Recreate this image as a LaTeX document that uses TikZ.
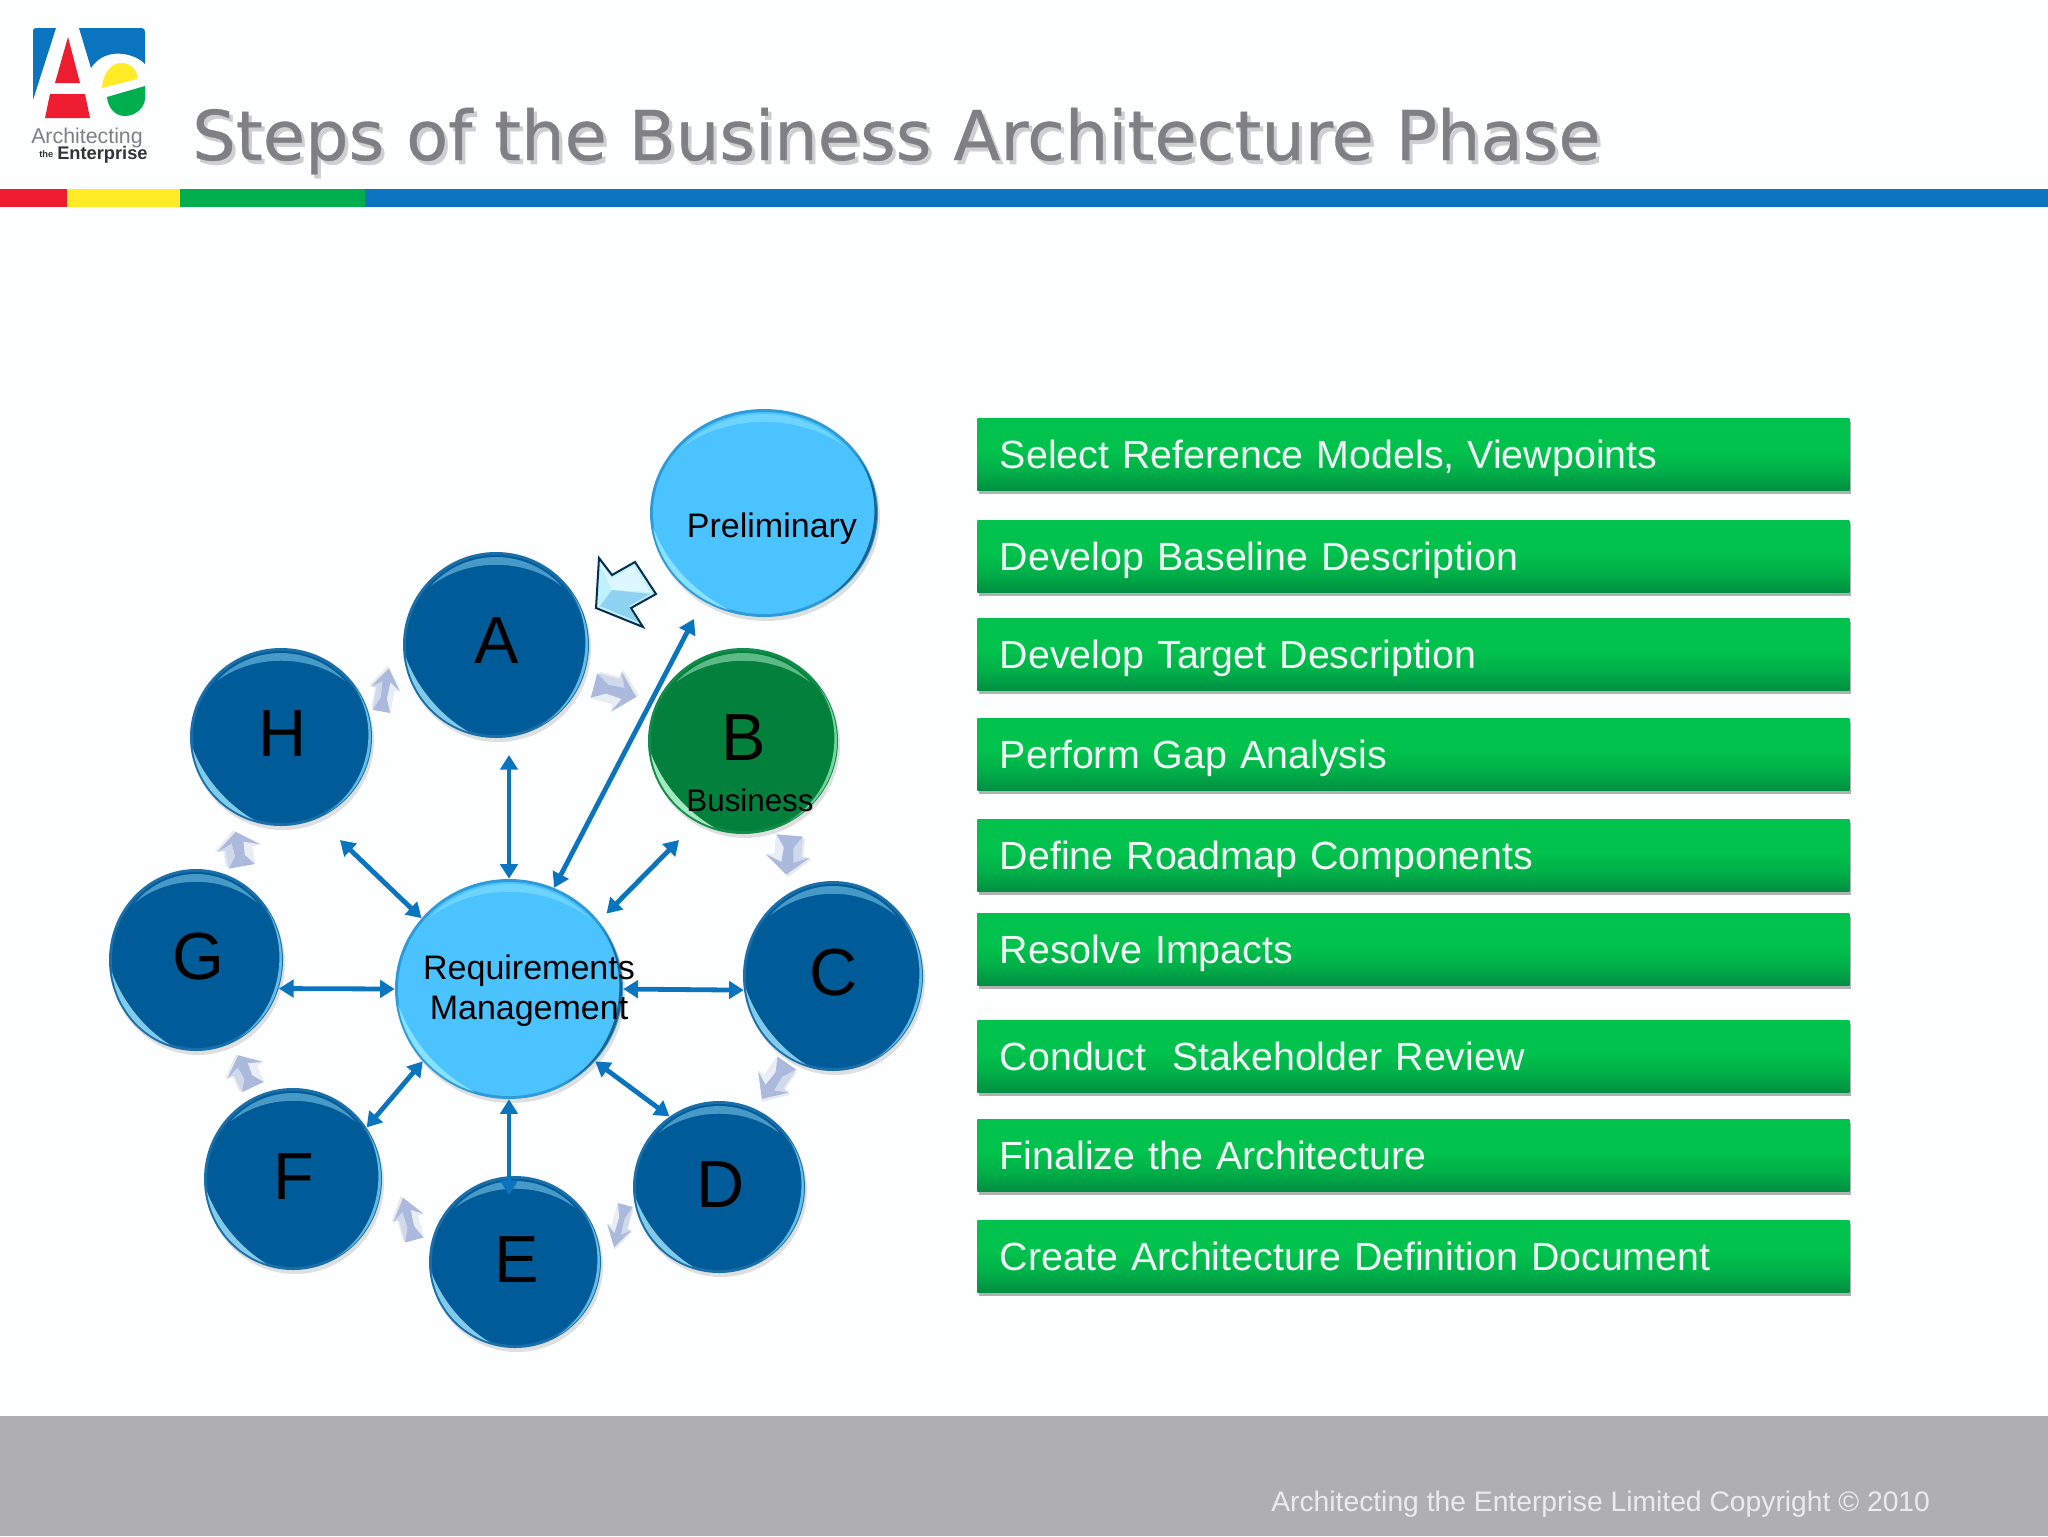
\documentclass[tikz,border=0pt]{standalone}
\usepackage{fontspec}
\usepackage{xcolor}
\usetikzlibrary{arrows.meta,shapes.geometric,shadows}
\setmainfont{Liberation Sans}
\newfontfamily\titlefont[FakeBold=0.5]{DejaVu Sans}

\definecolor{pagewhite}{HTML}{FDFEFF}
\definecolor{footgray}{HTML}{AFAFB1}
\definecolor{stripered}{HTML}{ED1C2E}
\definecolor{stripeyellow}{HTML}{FFEC26}
\definecolor{stripegreen}{HTML}{00AE4D}
\definecolor{stripeblue}{HTML}{0A74BE}
\definecolor{titlegray}{HTML}{808083}
\definecolor{titleshade}{HTML}{CFCFD1}
\definecolor{linkblue}{HTML}{0A74BE}
\definecolor{deepfill}{HTML}{005C99}
\definecolor{deeprim}{HTML}{1B6FA8}
\definecolor{deeplit}{HTML}{8FD8F5}
\definecolor{deepedge}{HTML}{6FC4EC}
\definecolor{skyfill}{HTML}{4BC3FF}
\definecolor{skyrim}{HTML}{2E9BD8}
\definecolor{skylit}{HTML}{8DE6FF}
\definecolor{skyedge}{HTML}{1B5A84}
\definecolor{leaffill}{HTML}{03803C}
\definecolor{leafrim}{HTML}{128C4A}
\definecolor{leaflit}{HTML}{B4F5CF}
\definecolor{leafedge}{HTML}{7FDCA8}
\definecolor{markfill}{HTML}{AAB9DC}
\definecolor{barhigh}{HTML}{00C24C}
\definecolor{barlow}{HTML}{00AE48}
\definecolor{bardeep}{HTML}{008F42}
\definecolor{bartext}{HTML}{F2FFF7}

\pgfdeclareverticalshading{barshade}{100bp}{color(0bp)=(bardeep);color(25bp)=(bardeep);color(38bp)=(barlow);color(52bp)=(barhigh);color(100bp)=(barhigh)}

\tikzset{
    link/.style={draw=linkblue,line width=3.6pt,{Triangle[length=11pt,width=13pt]}-{Triangle[length=11pt,width=13pt]}},
    ball/.style={ellipse,inner sep=0pt,drop shadow={shadow xshift=1.5pt,shadow yshift=-3pt,fill=black,opacity=0.12}},
    letter/.style={inner sep=0.75pt,font=\fontsize{50}{60}\selectfont,text=black},
    ballnote/.style={inner sep=0.75pt,font=\fontsize{25.5}{30}\selectfont,text=black,align=center},
    stepbar/.style={anchor=north west,rectangle,shading=barshade,minimum width=654pt,minimum height=54pt,text width=620pt,text height=22pt,text depth=0.5pt,inner xsep=17pt,inner ysep=0pt,align=left,text=bartext,font=\fontsize{29.5}{36}\selectfont,drop shadow={shadow xshift=1pt,shadow yshift=-3pt,fill=black,opacity=0.3}},
    pics/stepmark/.style={code={
        \begin{scope}[scale=1.15]
        \fill[black,opacity=0.08] (-16,-9) -- (3,-11) -- (3,-18) -- (22,2) -- (3,20) -- (3,13) -- (-16,13) -- cycle;
        \fill[markfill] (-18,-11) -- (2,-11) -- (2,-18) -- (20,0) -- (2,18) -- (2,11) -- (-18,11) -- cycle;
        \fill[white,opacity=0.75] (-18,-11) -- (2,-11) -- (2,-18) -- (8,-5) -- (-6,-4) -- cycle;
        \fill[white,opacity=0.45] (-18,11) -- (-6,4) -- (8,5) -- (2,18) -- (2,11) -- cycle;
        \end{scope}
    }},
}

% #1 name, #2 x, #3 y, #4 x radius, #5 y radius, #6 colour family
\newcommand{\glossball}[6]{
    \draw (#2,#3) node (#1) [ball,fill=#6rim,minimum width={1.5pt*#4},minimum height={1.5pt*#5}] {};
    \begin{scope}[shift={(#2,#3)}]
    \fill[#6fill] (0,0) ellipse [x radius={#4-3},y radius={#5-3}];
    % top lens
    \fill[#6lit,opacity=0.5] (222:{#4-5} and {#5-5}) arc [start angle=222,end angle=318,x radius={#4-5},y radius={#5-5}] .. controls (288:{1.16*#4-16} and {1.16*#5-16}) and (252:{1.16*#4-16} and {1.16*#5-16}) .. cycle;
    % lower left lens
    \fill[#6lit,opacity=0.9] (108:{#4-2} and {#5-2}) arc [start angle=108,end angle=172,x radius={#4-2},y radius={#5-2}] .. controls (151:{1.07*#4-10} and {1.07*#5-10}) and (129:{1.07*#4-10} and {1.07*#5-10}) .. cycle;
    % right edge lens
    \fill[#6edge,opacity=0.9] (-35:{#4-1} and {#5-1}) arc [start angle=-35,end angle=60,x radius={#4-1},y radius={#5-1}] .. controls (30:{1.16*#4-5} and {1.16*#5-5}) and (-5:{1.16*#4-5} and {1.16*#5-5}) .. cycle;
    \end{scope}
}

\newcommand{\shadedtitle}[1]{\makebox[0pt][l]{\kern2.5pt\raisebox{-3pt}{\textcolor{titleshade}{#1}}}#1}

\begin{document}
\begin{tikzpicture}[x=0.75pt,y=0.75pt,yscale=-1,xscale=1]
    \useasboundingbox (0,0) rectangle (2048,1536);
    \fill[pagewhite] (0,0) rectangle (2048,1536);

    %Shape: Header stripes
    \fill[stripered] (0,189) rectangle (67,207);
    \fill[stripeyellow] (67,189) rectangle (180,207);
    \fill[stripegreen] (180,189) rectangle (365,207);
    \fill[stripeblue] (365,189) rectangle (2048,207);
    %Shape: Footer band
    \fill[footgray] (0,1416) rectangle (2048,1536);

    %Shape: Logo
    \fill[stripeblue] (36,28) -- (56,28) -- (33,100) -- (33,31) .. controls (33,29) and (34,28) .. (36,28) -- cycle;
    \fill[stripeblue] (79,28) -- (141,28) .. controls (144,28) and (145,29) .. (145,32) -- (145,64) .. controls (135,53) and (105,46) .. (91,68) -- cycle;
    \fill[stripered] (68,37) -- (80,83) -- (55,83) -- cycle;
    \fill[stripered] (50,94) -- (85,94) -- (90,118) -- (45,118) -- cycle;
    \fill[stripeyellow] (102,88) .. controls (103,72) and (112,63) .. (121,63) .. controls (131,63) and (138,70) .. (137,79) -- cycle;
    \fill[stripegreen] (107,97) -- (145,86) -- (145,98) .. controls (145,108) and (135,116) .. (125,116) .. controls (115,116) and (108,108) .. (107,97) -- cycle;
    % Text Node
    \draw (31,143) node (logotop) [anchor=base west,inner sep=0pt,text=titlegray,font=\fontsize{16}{18}\selectfont] {Architecting};
    % Text Node
    \draw (39,157) node (logothe) [anchor=base west,inner sep=0pt,text=black!80,font=\fontsize{7}{8}\bfseries\selectfont] {the};
    % Text Node
    \draw (57,159) node (logoname) [anchor=base west,inner sep=0pt,text=black!80,font=\fontsize{13.7}{16}\bfseries\selectfont] {Enterprise};

    % Text Node
    \draw (192,160) node (title) [anchor=base west,inner sep=0pt,text=titlegray,font=\titlefont\fontsize{51.5}{60}\selectfont] {\shadedtitle{Steps of the Business Architecture Phase}};

    %Shape: Circles
    \glossball{prelim}{764}{513}{114}{104}{sky}
    \glossball{a}{496}{645}{93}{93}{deep}
    \glossball{b}{743}{741}{95}{93}{leaf}
    \glossball{c}{833}{976}{90}{95}{deep}
    \glossball{d}{719}{1187}{86}{86}{deep}
    \glossball{e}{515}{1262}{86}{86}{deep}
    \glossball{f}{293}{1179}{89}{91}{deep}
    \glossball{g}{196}{960}{87}{91}{deep}
    \glossball{h}{281}{737}{91}{89}{deep}
    \glossball{rm}{509}{989}{114}{110}{sky}

    %Shape: Small block arrows
    \draw (385,691) pic [rotate=80,yscale=0.7] {stepmark};
    \draw (614,691) pic [rotate=-15] {stepmark};
    \draw (788,854) pic [rotate=-95,xscale=0.9,yscale=1.05] {stepmark};
    \draw (775,1080) pic [rotate=-125,yscale=0.9] {stepmark};
    \draw (620,1225) pic [rotate=-105,yscale=0.6] {stepmark};
    \draw (409,1220) pic [rotate=105,yscale=0.75] {stepmark};
    \draw (246,1072) pic [rotate=115,xscale=0.8,yscale=0.95] {stepmark};
    \draw (239,850) pic [rotate=100,xscale=0.8,yscale=1.05] {stepmark};

    %Shape: Large block arrow
    \draw[draw=black!60!linkblue,fill=skylit!55!white,line width=1.5pt,line join=miter] (596,608) -- (599,558) -- (612,575) -- (635,562) -- (656,594) -- (631,608) -- (643,627) -- cycle;
    \fill[white,opacity=0.45] (599,562) -- (612,579) -- (634,566) -- (650,592) -- (612,590) -- cycle;
    \fill[skyrim,opacity=0.35] (600,606) -- (612,590) -- (650,594) -- (629,606) -- (638,622) -- cycle;

    \coordinate (endprelim) at (694,619);
    \coordinate (enda) at (509,755);
    \coordinate (endb) at (679,840);
    \coordinate (endh) at (340,840);
    \coordinate (ende) at (509,1195);

    %Straight Lines
    \draw[link] (rm.90) -- (enda);
    \draw[link] (rm.66) -- (endprelim);
    \draw[link,shorten <=8pt] (rm.37) -- (endb);
    \draw[link] (rm.141) -- (endh);
    \draw[link] (rm.180) -- (g.341);
    \draw[link] (rm.0) -- (c.189);
    \draw[link] (rm.-40) -- (d.125);
    \draw[link] (rm.-90) -- (ende);
    \draw[link] (rm.220) -- (f.35);

    % Text Node
    \draw (497,641) node (lbla) [letter] {A};
    % Text Node
    \draw (744,738) node (lblb) [letter] {B};
    % Text Node
    \draw (834,973) node (lblc) [letter] {C};
    % Text Node
    \draw (721,1185) node (lbld) [letter] {D};
    % Text Node
    \draw (517,1260) node (lble) [letter] {E};
    % Text Node
    \draw (294,1177) node (lblf) [letter] {F};
    % Text Node
    \draw (198,957) node (lblg) [letter] {G};
    % Text Node
    \draw (283,734) node (lblh) [letter] {H};
    % Text Node
    \draw (772,529) node (lblprelim) [ballnote] {Preliminary};
    % Text Node
    \draw (750,800) node (lblbusiness) [ballnote,font=\fontsize{23.5}{30}\selectfont] {Business};
    % Text Node
    \draw (529,991) node (lblrm) [ballnote] {Requirements\\Management};

    %Shape: Step bars
    \draw (977,418) node (selectbar) [stepbar] {Select Reference Models, Viewpoints};
    \draw (977,520) node (baselinebar) [stepbar] {Develop Baseline Description};
    \draw (977,618) node (targetbar) [stepbar] {Develop Target Description};
    \draw (977,718) node (gapbar) [stepbar] {Perform Gap Analysis};
    \draw (977,819) node (roadmapbar) [stepbar] {Define Roadmap Components};
    \draw (977,913) node (impactsbar) [stepbar] {Resolve Impacts};
    \draw (977,1020) node (reviewbar) [stepbar] {Conduct\ \ Stakeholder Review};
    \draw (977,1119) node (finalizebar) [stepbar] {Finalize the Architecture};
    \draw (977,1220) node (documentbar) [stepbar] {Create Architecture Definition Document};

    % Text Node
    \draw (1271,1511) node (copyright) [anchor=base west,inner sep=0pt,text=black!8,font=\fontsize{21.2}{25}\selectfont] {Architecting the Enterprise Limited Copyright © 2010};
\end{tikzpicture}
\end{document}
